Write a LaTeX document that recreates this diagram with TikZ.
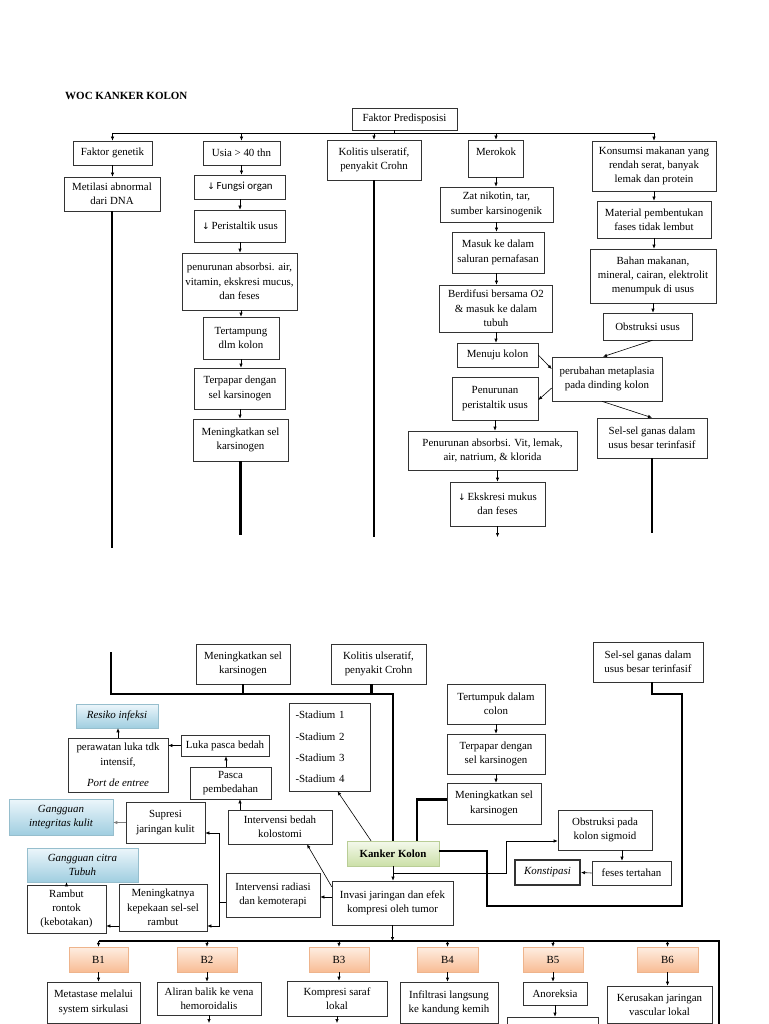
\documentclass[tikz,border=0pt]{standalone}
\usepackage{fontspec}
\setmainfont{Liberation Serif}
\newfontfamily\sansf{Carlito}
\newfontfamily\djv{DejaVu Sans}
\usetikzlibrary{arrows.meta,calc}
\definecolor{bltop}{RGB}{236,246,251}
\definecolor{blbot}{RGB}{160,206,224}
\definecolor{bledge}{RGB}{150,190,205}
\definecolor{ortop}{RGB}{254,238,226}
\definecolor{orbot}{RGB}{248,188,148}
\definecolor{oredge}{RGB}{238,180,140}
\definecolor{grtop}{RGB}{244,249,236}
\definecolor{grbot}{RGB}{204,224,168}
\definecolor{gredge}{RGB}{185,205,150}
\newcommand{\fs}{\fontsize{10.9}{14.3}\selectfont}
\newcommand{\dn}{{\djv\fontsize{9}{9}\selectfont ↓}\,}
\begin{document}
\begin{tikzpicture}[x=1pt,y=-1pt,
  wh/.style 2 args={minimum width=#1, minimum height=#2},
  box/.style={draw=black!80, line width=0.6pt, fill=white, align=center, inner sep=1pt, font=\fs},
  bluebox/.style={draw=bledge, line width=0.5pt, top color=bltop, bottom color=blbot, align=center, inner sep=1pt, font=\fs\itshape},
  obox/.style={draw=oredge, line width=0.4pt, top color=ortop, bottom color=orbot, align=center, inner sep=1pt, font=\fs},
  greenbox/.style={draw=gredge, line width=0.5pt, top color=grtop, bottom color=grbot, align=center, inner sep=1pt, font=\fs\bfseries},
  ln/.style={line width=0.6pt},
  arr/.style={line width=0.6pt, -{Latex[length=4pt,width=3.4pt]}},
  thk/.style={line width=2.2pt}]
\fill[white] (0,0) rectangle (768,1024);
\useasboundingbox (0,0) rectangle (768,1024);

% ---------------- title
\node[font=\fontsize{11}{13}\selectfont\bfseries, anchor=west, inner sep=0] (title) at (65,96) {WOC KANKER KOLON};

% ---------------- top section
\node[box, wh={105}{22}] (pred) at (404.5,119) {Faktor Predisposisi};
\node[box, wh={79}{24}] (fg) at (112.5,153) {Faktor genetik};
\node[box, wh={77}{24}] (usia) at (241.5,153) {Usia > 40 thn};
\node[box, wh={94}{40}] (kol) at (374,160) {Kolitis ulseratif,\\penyakit Crohn};
\node[box, wh={55}{37}] (mer) at (496,158.5) {Merokok\\\mbox{}};
\node[box, wh={124}{50}] (kons) at (654,166) {Konsumsi makanan yang\\rendah serat, banyak\\lemak dan protein};

\node[box, wh={96}{34}] (met) at (112,194) {Metilasi abnormal\\dari DNA};
\node[box, wh={91}{24}] (fung) at (240,187) {\dn{\sansf Fungsi organ}};
\node[box, wh={91}{32}] (peri) at (240,226) {\dn Peristaltik usus};
\node[box, wh={115}{57}] (pen1) at (239.5,281.5) {penurunan absorbsi. air,\\vitamin, ekskresi mucus,\\dan feses};
\node[box, wh={76}{42}] (tert) at (241,338) {Tertampung\\dlm kolon};
\node[box, wh={91}{41}] (terp1) at (240,388.5) {Terpapar dengan\\sel karsinogen};
\node[box, wh={95}{42}] (men1) at (240.5,440) {Meningkatkan sel\\karsinogen};

\node[box, wh={113}{35}] (zat) at (496.5,204.5) {Zat nikotin, tar,\\sumber karsinogenik};
\node[box, wh={92}{41}] (masuk) at (498,252.5) {Masuk ke dalam\\saluran pernafasan};
\node[box, wh={113}{47}] (berd) at (496,308.5) {Berdifusi bersama O2\\\& masuk ke dalam\\tubuh};
\node[box, wh={81}{24}] (menuju) at (497.5,355) {Menuju kolon};
\node[box, wh={86}{43}] (penper) at (495,398.5) {Penurunan\\peristaltik usus};
\node[box, wh={169}{39}] (penabs) at (492.5,450.5) {Penurunan absorbsi. Vit, lemak,\\air, natrium, \& klorida};
\node[box, wh={95}{44}] (eks) at (497.5,504) {\dn Ekskresi mukus\\dan feses};
\node[box, wh={110}{44}] (metap) at (607,379) {perubahan metaplasia\\pada dinding kolon};
\node[box, wh={110}{40}] (ganas1) at (652,438) {Sel-sel ganas dalam\\usus besar terinfasif};
\node[box, wh={114}{37}] (mat) at (654,219.5) {Material pembentukan\\fases tidak lembut};
\node[box, wh={126}{54}] (bahan) at (653,276) {Bahan makanan,\\mineral, cairan, elektrolit\\menumpuk di usus};
\node[box, wh={89}{27}] (obs1) at (647.5,326.5) {Obstruksi usus};

% top connectors
\coordinate (busL) at (112.5,133);
\coordinate (busR) at (654,133);
\coordinate (pj) at (394,133);
\draw[ln] (busL) -- (busR);
\draw[ln] (pj |- pred.south) -- (pj);
\foreach \n in {fg,usia,kol,mer,kons} \draw[arr] (\n.north |- busL) -- (\n.north);

\draw[arr] (fg.south) -- (fg.south |- met.north);
\draw[arr] (usia.south) -- (usia.south |- fung.north);
\draw[arr] (fung.south) -- (fung.south |- peri.north);
\draw[arr] (peri.south) -- (peri.south |- pen1.north);
\draw[arr] (tert.north |- pen1.south) -- (tert.north);
\draw[arr] (tert.south) -- (tert.south |- terp1.north);
\draw[arr] (terp1.south) -- (terp1.south |- men1.north);

\draw[arr] (mer.south) -- (mer.south |- zat.north);
\draw[arr] (zat.south) -- (zat.south |- masuk.north);
\draw[arr] (zat.south |- masuk.south) -- (zat.south |- berd.north);
\draw[arr] (berd.south) -- (berd.south |- menuju.north);
\draw[arr] (penper.south) -- (penper.south |- penabs.north);
\draw[arr] (eks.north |- penabs.south) -- (eks.north);
\coordinate (eksEnd) at (497.5,537);
\draw[arr] (eks.south) -- (eks.south |- eksEnd);

\draw[arr] (menuju.east) -- ($(metap.west)+(0,-10)$);
\draw[arr] ($(metap.west)+(0,9)$) -- ($(penper.east)+(0,1.5)$);
\draw[arr] ($(obs1.south)+(5,0)$) -- ($(metap.north)+(-4,0)$);
\draw[arr] ($(metap.south)+(-5,0)$) -- (ganas1.north);

\draw[arr] (kons.south) -- (kons.south |- mat.north);
\draw[arr] (mat.south) -- (mat.south |- bahan.north);
\draw[arr] (bahan.south) -- (bahan.south |- obs1.north);

\coordinate (e1) at (109,548);
\coordinate (e2) at (241,535);
\coordinate (e3) at (373,537);
\coordinate (e4) at (654,533);
\draw[thk] (met.south) -- (met.south |- e1);
\draw[thk] (men1.south) -- (men1.south |- e2);
\draw[thk] (kol.south) -- (kol.south |- e3);
\draw[thk] (ganas1.south) -- (ganas1.south |- e4);

% ---------------- bottom section
\node[box, wh={94}{40}] (men2) at (243,664) {Meningkatkan sel\\karsinogen};
\node[box, wh={95}{40}] (kol2) at (378.5,664) {Kolitis ulseratif,\\penyakit Crohn};
\node[box, wh={81}{88}, text width=68, align=left] (stad) at (329.5,747) {-Stadium 1\\[7pt]-Stadium 2\\[7pt]-Stadium 3\\[7pt]-Stadium 4};
\node[box, wh={110}{40}] (ganas2) at (648,662) {Sel-sel ganas dalam\\usus besar terinfasif};
\node[box, wh={98}{40}] (tump) at (496,704) {Tertumpuk dalam\\colon};
\node[box, wh={98}{40}] (terp2) at (496,754) {Terpapar dengan\\sel karsinogen};
\node[box, wh={94}{41}] (men3) at (494,803.5) {Meningkatkan sel\\karsinogen};
\node[greenbox, wh={92}{25}] (kk) at (393,853.5) {Kanker Kolon};
\node[box, wh={94}{40}] (obs2) at (605,830) {Obstruksi pada\\kolon sigmoid};
\node[box, wh={79}{24}] (feses) at (631.5,873) {feses tertahan};
\node[box, wh={65}{25}, line width=2pt, font=\fs\itshape] (konst) at (547.5,872.5) {Konstipasi};
\node[box, wh={121}{44}] (inv) at (392.5,903) {Invasi jaringan dan efek\\kompresi oleh tumor};
\node[box, wh={104}{34}] (ibedah) at (280,827) {Intervensi bedah\\kolostomi};
\node[box, wh={94}{44}] (irad) at (273,895) {Intervensi radiasi\\dan kemoterapi};
\node[box, wh={81}{32}] (pasca) at (230.5,783) {Pasca\\pembedahan};
\node[box, wh={88}{21}] (luka) at (225,745.5) {Luka pasca bedah};
\node[box, wh={100}{54}] (rawat) at (118,765) {perawatan luka tdk\\intensif,\\[7pt]\textit{Port de entree}};
\node[bluebox, wh={82}{24}] (resiko) at (117,716) {Resiko infeksi};
\node[bluebox, wh={104}{36}] (gint) at (61,817) {Gangguan\\integritas kulit};
\node[box, wh={79}{41}] (sup) at (165.5,822.5) {Supresi\\jaringan kulit};
\node[bluebox, wh={111}{34}] (gcit) at (82.5,865) {Gangguan citra\\Tubuh};
\node[box, wh={79}{48}] (ramb) at (66.5,909) {Rambut\\rontok\\(kebotakan)};
\node[box, wh={88}{47}] (mkep) at (163,907.5) {Meningkatnya\\kepekaan sel-sel\\rambut};

% B row
\node[obox, wh={59}{25}] (b1) at (98.5,959.5) {B1};
\node[obox, wh={60}{25}] (b2) at (207,959.5) {B2};
\node[obox, wh={60}{25}] (b3) at (339,959.5) {B3};
\node[obox, wh={61}{25}] (b4) at (447.5,959.5) {B4};
\node[obox, wh={60}{25}] (b5) at (553,959.5) {B5};
\node[obox, wh={61}{25}] (b6) at (667.5,959.5) {B6};

\node[box, wh={93}{41}] (meta) at (93.5,1002.5) {Metastase melalui\\system sirkulasi};
\node[box, wh={104}{33}] (alir) at (209,998.5) {Aliran balik ke vena\\hemoroidalis};
\node[box, wh={100}{35}] (komp) at (337,998.5) {Kompresi saraf\\lokal};
\node[box, wh={98}{41}] (infil) at (449,1002.5) {Infiltrasi langsung\\ke kandung kemih};
\node[box, wh={64}{23}] (anor) at (555,993.5) {Anoreksia};
\node[box, wh={91}{24}] (asup) at (552.5,1029) {};
\node[box, wh={105}{37}] (kerus) at (659.5,1004.5) {Kerusakan jaringan\\vascular lokal};

% bottom connectors
\coordinate (tl) at (111,652);
\coordinate (bl) at (111,694);
\draw[thk] (tl) -- (bl) -| (kk.north);
\draw[thk] (men2.south) -- (men2.south |- bl);
\path ($(kol2.south)+(-7,0)$) coordinate (k2s);
\draw[thk] (k2s) -- (k2s |- bl);

\draw[arr] ($(kk.north)+(-22,0)$) -- ($(stad.south)+(8,0)$);

\path ($(ganas2.south)+(4,0)$) coordinate (g2s);
\coordinate (g2a) at (682,906);
\coordinate (g2b) at (487,851);
\draw[thk] (g2s) -- ++(0,12) -| (g2a) -| (g2b) -- (g2b -| kk.east);

\draw[arr] (tump.south) -- (tump.south |- terp2.north);
\draw[arr] (terp2.south) -- (terp2.south |- men3.north);
\path ($(men3.west)+(0,-4)$) coordinate (m3w);
\draw[thk] (m3w) -| ($(kk.north)+(24,0)$);

\draw[arr] (kk.south) -- (kk.south |- inv.north);
\path ($(kk.south)+(0,7)$) coordinate (kj);
\path ($(obs2.west)+(0,11)$) coordinate (ow);
\draw[arr] (kj) -| ($(ow)+(-51,0)$) -- (ow);
\path ($(obs2.south)+(17,0)$) coordinate (os);
\draw[arr] (os) -- (os |- feses.north);
\draw[arr] (feses.west) -- (konst.east);

\path ($(inv.west)+(0,-6)$) coordinate (iw);
\draw[arr] (iw) -- (iw -| irad.east);
\draw[arr] ($(inv.north west)+(0,6)$) -- ($(ibedah.south)+(27,0)$);
\path ($(ibedah.north)+(-40,0)$) coordinate (ibn);
\draw[arr] (ibn) -- (ibn |- pasca.south);
\path ($(pasca.north)+(-4.5,0)$) coordinate (pn);
\draw[arr] (pn) -- (pn |- luka.south);
\draw[arr] (luka.west) -- (luka.west -| rawat.east);
\draw[arr] (rawat.north) -- (rawat.north |- resiko.south);
\draw[arr, draw=gray] (sup.west) -- (sup.west -| gint.east);

\path ($(irad.west)+(0,7)$) coordinate (rw);
\coordinate (sp) at (219,902);
\draw[ln] (rw) -- (sp);
\draw[arr] (sp) |- ($(sup.east)+(0,10.5)$);
\draw[arr] (sp) |- ($(mkep.east)+(0,18.5)$);
\path ($(mkep.west)+(0,18.5)$) coordinate (mw);
\draw[arr] (mw) -- (mw -| ramb.east);
\draw[arr] (ramb.north) -- (ramb.north |- gcit.south);

% B bus
\coordinate (bbL) at (98.5,941);
\coordinate (bbR) at (719,941);
\coordinate (bbB) at (719,1026);
\draw[thk] (bbL) -- (bbR) -- (bbB);
\draw[arr] (inv.south) -- (inv.south |- bbL);
\foreach \b in {b1,b2,b3,b4,b5,b6} \draw[arr] (\b.north |- bbL) -- (\b.north);
\draw[arr] (b1.south) -- (b1.south |- meta.north);
\draw[arr] (b2.south) -- (b2.south |- alir.north);
\draw[arr] (b3.south) -- (b3.south |- komp.north);
\draw[arr] (b4.south) -- (b4.south |- infil.north);
\draw[arr] (b5.south) -- (b5.south |- anor.north);
\draw[arr] (b6.south) -- (b6.south |- kerus.north);
\draw[arr] (anor.south) -- (anor.south |- asup.north);
\coordinate (pgB) at (0,1023);
\draw[arr] (alir.south) -- (alir.south |- pgB);
\draw[arr] (komp.south) -- (komp.south |- pgB);
\end{tikzpicture}
\end{document}
